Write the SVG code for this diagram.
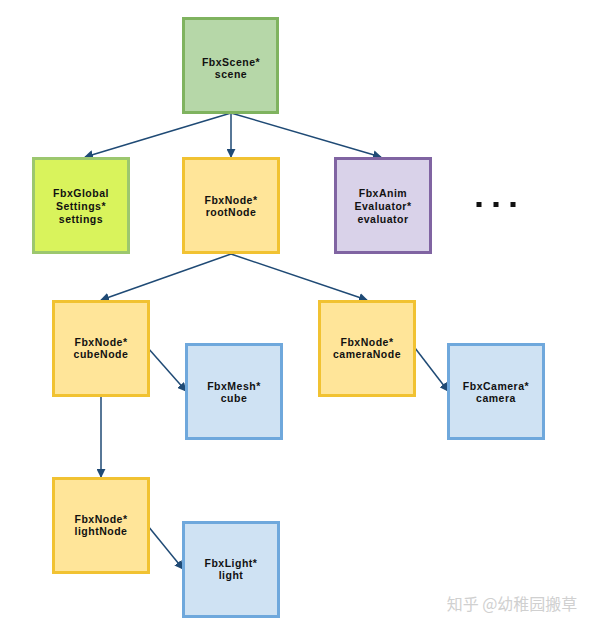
<svg xmlns="http://www.w3.org/2000/svg" width="599" height="631" viewBox="0 0 599 631">
<defs>
<marker id="ah" viewBox="0 0 10 10" refX="9" refY="5" markerWidth="9" markerHeight="9" markerUnits="userSpaceOnUse" orient="auto">
<path d="M0,0 L10,5 L0,10 Z" fill="#1f4a75"/>
</marker>
<style>
.box{stroke-width:3}
.green{fill:#b6d7a8;stroke:#7fb35f}
.lime{fill:#d9f35c;stroke:#9cc76e}
.yellow{fill:#ffe599;stroke:#f1c232}
.purple{fill:#d9d2e9;stroke:#8064a2}
.blue{fill:#cfe2f3;stroke:#6fa8dc}
.t{font-family:"Liberation Sans",Arial,sans-serif;font-size:10.5px;font-weight:bold;fill:#111;text-anchor:middle;letter-spacing:0.5px}
.c{stroke:#1f4a75;stroke-width:1.5;fill:none;marker-end:url(#ah)}
</style>
</defs>
<rect width="599" height="631" fill="#ffffff"/>
<g id="connectors">
<line class="c" x1="231" y1="113" x2="85" y2="157"/>
<line class="c" x1="231" y1="113" x2="231" y2="157"/>
<line class="c" x1="231" y1="113" x2="381" y2="157"/>
<line class="c" x1="231" y1="254" x2="101" y2="300"/>
<line class="c" x1="231" y1="254" x2="367" y2="300"/>
<line class="c" x1="148" y1="348" x2="186" y2="391"/>
<line class="c" x1="101" y1="397" x2="101" y2="477"/>
<line class="c" x1="415" y1="348" x2="448" y2="391"/>
<line class="c" x1="148" y1="526" x2="183" y2="569"/>
</g>
<g id="scene">
<rect class="box green" x="183.5" y="18.5" width="94" height="94"/>
<text class="t" x="231" y="66">FbxScene*</text>
<text class="t" x="231" y="78">scene</text>
</g>
<g id="settings">
<rect class="box lime" x="33.5" y="158.5" width="95" height="94"/>
<text class="t" x="81" y="197">FbxGlobal</text>
<text class="t" x="81" y="210">Settings*</text>
<text class="t" x="81" y="223">settings</text>
</g>
<g id="rootNode">
<rect class="box yellow" x="183.5" y="158.5" width="95" height="94"/>
<text class="t" x="231" y="204">FbxNode*</text>
<text class="t" x="231" y="216">rootNode</text>
</g>
<g id="evaluator">
<rect class="box purple" x="335.5" y="158.5" width="95" height="94"/>
<text class="t" x="383" y="197">FbxAnim</text>
<text class="t" x="383" y="210">Evaluator*</text>
<text class="t" x="383" y="223">evaluator</text>
</g>
<g id="more">
<rect x="476.5" y="202" width="5" height="5" fill="#111"/>
<rect x="493.5" y="202" width="5" height="5" fill="#111"/>
<rect x="510.5" y="202" width="5" height="5" fill="#111"/>
</g>
<g id="cubeNode">
<rect class="box yellow" x="53.5" y="301.5" width="95" height="94"/>
<text class="t" x="101" y="346">FbxNode*</text>
<text class="t" x="101" y="358">cubeNode</text>
</g>
<g id="cube">
<rect class="box blue" x="186.5" y="344.5" width="95" height="94"/>
<text class="t" x="234" y="390">FbxMesh*</text>
<text class="t" x="234" y="402">cube</text>
</g>
<g id="cameraNode">
<rect class="box yellow" x="319.5" y="301.5" width="95" height="94"/>
<text class="t" x="367" y="346">FbxNode*</text>
<text class="t" x="367" y="358">cameraNode</text>
</g>
<g id="camera">
<rect class="box blue" x="448.5" y="344.5" width="95" height="94"/>
<text class="t" x="496" y="390">FbxCamera*</text>
<text class="t" x="496" y="402">camera</text>
</g>
<g id="lightNode">
<rect class="box yellow" x="53.5" y="478.5" width="95" height="94"/>
<text class="t" x="101" y="523">FbxNode*</text>
<text class="t" x="101" y="535">lightNode</text>
</g>
<g id="light">
<rect class="box blue" x="183.5" y="522.5" width="95" height="94"/>
<text class="t" x="231" y="567">FbxLight*</text>
<text class="t" x="231" y="579">light</text>
</g>
<text x="512" y="610" font-family="'Noto Sans CJK SC',sans-serif" font-size="16" fill="#d0d0d0" text-anchor="middle">知乎 @幼稚园搬草</text>
</svg>
